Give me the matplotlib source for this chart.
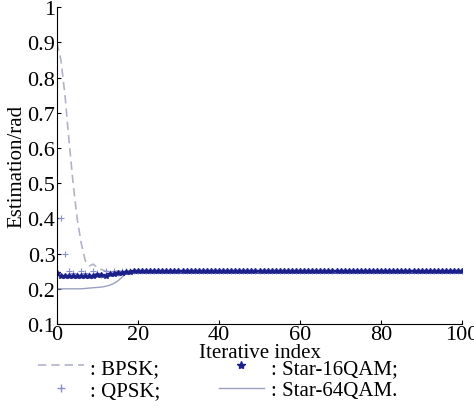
import matplotlib
matplotlib.use("Agg")
import matplotlib.pyplot as plt
from matplotlib.lines import Line2D

plt.rcParams['font.family'] = ['Liberation Serif', 'DejaVu Serif']

iters = list(range(101))
tail = [0.25] * 81
bpsk = [0.90, 0.85, 0.75, 0.62, 0.50, 0.40, 0.33, 0.28, 0.265, 0.27, 0.26,
        0.255, 0.25, 0.25, 0.25, 0.25, 0.25, 0.25, 0.25, 0.25] + tail
qpsk = [0.24, 0.40, 0.30, 0.25, 0.245, 0.24, 0.25, 0.245, 0.24, 0.25, 0.245,
        0.24, 0.25, 0.245, 0.25, 0.245, 0.25, 0.25, 0.25, 0.25] + tail
s16 = [0.245, 0.235, 0.235, 0.235, 0.235, 0.235, 0.235, 0.235, 0.235, 0.237, 0.238,
       0.238, 0.236, 0.242, 0.243, 0.244, 0.246, 0.248, 0.249, 0.25] + tail
s64 = [0.20, 0.20, 0.20, 0.20, 0.20, 0.20, 0.20, 0.201, 0.202, 0.203, 0.204,
       0.205, 0.207, 0.21, 0.215, 0.222, 0.232, 0.242, 0.248, 0.25] + tail

fig = plt.figure(figsize=(4.74, 4.14), dpi=100)
ax = fig.add_axes([0.12, 0.215, 0.855, 0.765])
ax.plot(iters, s64, color='#9aa0c0', lw=1.0)
ax.plot(iters, bpsk, color='#b0b4c8', lw=1.2, ls=(0, (5, 3)))
ax.plot(iters, qpsk, ls='none', marker='+', color='#8a8fd0', ms=5, mew=0.8)
ax.plot(iters, s16, ls='none', marker='*', color='#1a1f8a', ms=4)
ax.set_xlim(0, 100)
ax.set_ylim(0.1, 1.0)
ax.set_xticks([0, 20, 40, 60, 80, 100])
ax.set_yticks([0.1, 0.2, 0.3, 0.4, 0.5, 0.6, 0.7, 0.8, 0.9, 1.0])
ax.set_yticklabels(['0.1', '0.2', '0.3', '0.4', '0.5', '0.6', '0.7', '0.8', '0.9', '1'])
ax.tick_params(labelsize=16, direction='in', length=3, pad=1)
for s in ['top', 'right']:
    ax.spines[s].set_visible(False)
ax.set_xlabel('Iterative index', fontsize=15, labelpad=-1)
ax.set_ylabel('Estimation/rad', fontsize=15, labelpad=1)

handles = [Line2D([], [], color='#b0b4c8', ls=(0, (5, 3)), lw=1.2),
           Line2D([], [], ls='none', marker='+', color='#8a8fd0', ms=6),
           Line2D([], [], ls='none', marker='*', color='#1a1f8a', ms=6),
           Line2D([], [], color='#9aa0c0', lw=1.0)]
labels = [': BPSK;', ': QPSK;', ': Star-16QAM;', ': Star-64QAM.']
fig.legend(handles, labels, loc='lower left', bbox_to_anchor=(0.04, -0.015), ncol=2,
           frameon=False, fontsize=15, handlelength=2.2, columnspacing=2.8,
           handletextpad=0.3, labelspacing=0.15)
fig.savefig('out.png', dpi=100)
